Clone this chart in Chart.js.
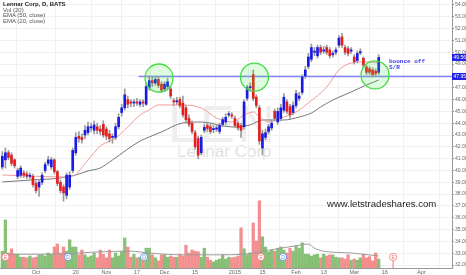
<!DOCTYPE html>
<html>
<head>
<meta charset="utf-8">
<script src="https://cdn.jsdelivr.net/npm/chart.js@4.4.1/dist/chart.umd.min.js"></script>
<style>
  html, body { margin: 0; padding: 0; background: #fff; }
  #wrap { position: relative; width: 466px; height: 275px; overflow: hidden; font-family: "Liberation Sans", Arial, sans-serif; }
  #chart { position: absolute; left: 0; top: 0; z-index: 1; }
  .wm { position: absolute; z-index: 0; white-space: nowrap; }
  #wmSym { left: 168px; top: 94px; font-size: 52px; letter-spacing: 3px; color: #eeeeee; }
  #wmName { left: 177px; top: 142px; font-size: 17px; color: #e2e2e2; }
  #legend { position: absolute; z-index: 2; left: 3px; top: 2px; font-size: 6px; line-height: 5.6px; color: #555; }
  #legend b { color: #222; }
  #site { position: absolute; z-index: 2; left: 327px; top: 198px; font-size: 9.6px; color: #222; }
  #note { position: absolute; z-index: 2; left: 389px; top: 59px; font-family: "Liberation Mono", monospace; font-weight: bold; font-size: 6px; line-height: 6px; color: #3a3af5; }
</style>
</head>
<body>
<div id="wrap">
  <div class="wm" id="wmSym">LEN</div>
  <div class="wm" id="wmName">Lennar Corp</div>
  <canvas id="chart" width="466" height="275"></canvas>
  <div id="legend">
    <b>Lennar Corp, D, BATS</b><br>Vol (20)<br>EMA (50, close)<br>EMA (20, close)
  </div>
  <div id="note">bounce off<br>S/R</div>
  <div id="site">www.letstradeshares.com</div>
</div>
<script>
// trading-day index of the first candle (0 = 1 Oct 2014)
const firstIdx = -11;

const tickIdx = [0, 13, 23, 33, 42, 52, 65, 74, 85, 94, 104, 114, 126];
const tickLabels = ['Oct', '20', 'Nov', '17', 'Dec', '15', '2015', '15', 'Feb', '13', 'Mar', '16', 'Apr'];

const opens = [
  40.3, 40.9, 41.5, 41.3, 40.9, 39.5, 39.6, 39.8, 39.7, 39.5,
  39.5, 38.9, 38.6, 39.0, 40.0, 40.6, 40.3, 40.9, 39.9, 39.0,
  38.6, 37.9, 38.6, 40.0, 41.5, 42.9, 42.8, 43.0, 43.2, 43.6,
  43.4, 43.7, 43.5, 43.9, 43.5, 43.1, 42.8, 42.8, 43.7, 44.9,
  45.3, 46.0, 45.8, 45.7, 45.8, 45.6, 45.8, 45.6, 47.0, 47.6,
  47.4, 47.7, 47.3, 46.9, 47.1, 46.9, 45.9, 45.8, 46.0, 45.7,
  45.3, 44.4, 44.0, 43.2, 42.7, 41.5, 43.4, 43.8, 43.7, 43.45,
  43.5, 43.3, 43.9, 44.1, 44.7, 44.7, 44.4, 44.0, 43.8, 43.7,
  46.1, 47.0, 48.1, 46.2, 45.3, 41.9, 42.8, 43.3, 43.6, 45.0,
  44.1, 44.4, 45.1, 45.8, 45.4, 44.9, 45.5, 46.1, 46.6, 48.0,
  48.8, 49.4, 50.0, 49.7, 50.4, 50.1, 50.4, 50.2, 49.8, 50.0,
  50.6, 51.3, 50.4, 50.3, 50.1, 49.6, 49.3, 49.95, 49.5, 48.75,
  48.6, 48.5, 48.4, 48.3
];
const highs = [
  41.6, 41.9, 41.7, 41.5, 41.0, 40.2, 40.4, 40.0, 39.9, 39.8,
  39.7, 39.1, 39.2, 39.8, 40.7, 41.2, 41.1, 41.0, 40.0, 39.2,
  38.8, 39.8, 39.9, 41.9, 43.2, 43.3, 43.1, 43.8, 44.1, 44.0,
  44.2, 44.0, 43.8, 44.2, 43.7, 43.4, 43.1, 44.0, 44.8, 45.6,
  46.9, 46.3, 46.0, 46.0, 46.1, 46.0, 46.0, 47.4, 48.0, 47.95,
  47.95, 47.9, 47.5, 47.5, 47.8, 47.1, 46.1, 46.2, 46.2, 46.3,
  45.5, 44.7, 44.2, 43.4, 42.9, 43.0, 43.9, 44.0, 43.9, 43.8,
  43.9, 44.0, 44.5, 44.8, 45.0, 44.9, 44.6, 44.2, 44.0, 46.0,
  47.2, 47.4, 48.5, 46.4, 45.5, 43.4, 43.5, 43.9, 44.3, 45.2,
  45.3, 45.6, 46.5, 46.0, 45.6, 45.8, 46.8, 46.6, 48.1, 48.8,
  49.9, 50.7, 50.4, 50.6, 50.6, 50.5, 50.6, 50.4, 50.1, 50.4,
  51.4, 51.6, 50.6, 50.5, 50.4, 49.8, 50.1, 50.3, 49.6, 48.9,
  48.8, 48.7, 48.6, 49.8
];
const lows = [
  40.1, 40.2, 40.9, 40.4, 40.2, 39.3, 39.4, 39.4, 39.3, 39.3,
  38.6, 38.1, 37.8, 38.8, 39.8, 40.4, 40.1, 39.7, 38.7, 38.1,
  37.4, 37.6, 38.4, 39.8, 41.3, 42.4, 42.3, 42.7, 43.0, 43.3,
  43.1, 43.1, 43.0, 42.8, 42.6, 42.4, 42.3, 42.6, 43.5, 44.6,
  45.1, 45.3, 45.4, 45.4, 45.5, 45.4, 45.4, 45.5, 46.8, 47.1,
  47.2, 47.0, 46.6, 46.7, 46.9, 46.1, 45.5, 45.6, 45.3, 44.5,
  44.0, 43.7, 43.1, 41.8, 41.0, 41.3, 43.2, 43.3, 43.1, 43.2,
  43.3, 43.1, 43.7, 43.9, 44.5, 44.4, 43.6, 43.4, 42.8, 43.5,
  45.9, 46.7, 45.9, 45.3, 42.2, 41.3, 42.6, 43.1, 43.4, 44.2,
  43.9, 44.2, 44.9, 44.8, 44.4, 44.7, 45.3, 45.9, 46.4, 47.8,
  48.6, 49.2, 49.7, 49.5, 49.8, 49.9, 49.8, 49.5, 49.6, 49.8,
  50.4, 50.4, 49.8, 49.7, 49.9, 49.0, 49.1, 49.8, 48.7, 48.1,
  48.1, 47.9, 47.95, 48.1
];
const closes = [
  41.2, 41.5, 41.1, 40.6, 40.4, 40.0, 40.2, 39.6, 39.5, 39.6,
  38.8, 38.3, 39.0, 39.6, 40.5, 40.9, 40.9, 39.9, 38.9, 38.3,
  38.1, 39.6, 39.6, 41.7, 42.8, 42.7, 42.6, 43.4, 43.7, 43.7,
  43.85, 43.4, 43.3, 43.0, 42.9, 42.7, 42.85, 43.7, 44.5, 45.3,
  46.4, 45.6, 45.7, 45.8, 45.7, 45.8, 45.7, 47.1, 47.6, 47.4,
  47.7, 47.2, 46.8, 47.3, 47.5, 46.3, 45.8, 45.9, 45.5, 44.7,
  44.3, 43.9, 43.3, 42.0, 41.3, 42.8, 43.65, 43.55, 43.3, 43.55,
  43.6, 43.8, 44.3, 44.5, 44.8, 44.6, 43.8, 43.6, 43.4, 45.8,
  47.0, 47.1, 46.1, 45.5, 42.5, 43.1, 43.2, 43.7, 44.0, 44.4,
  45.0, 45.3, 46.2, 45.0, 44.7, 45.5, 46.5, 46.3, 47.9, 48.5,
  49.6, 50.4, 50.1, 50.4, 50.0, 50.2, 50.0, 49.7, 49.9, 50.2,
  51.2, 50.6, 50.0, 49.9, 50.2, 49.2, 49.9, 50.05, 48.9, 48.3,
  48.3, 48.1, 48.2, 49.56
];
// volume, millions of shares
const volumes = [
  2.8, 8.0, 2.5, 3.2, 2.3, 2.3, 1.8, 1.8, 1.7, 2.0,
  1.7, 1.8, 2.2, 2.2, 2.0, 2.5, 2.3, 3.5, 4.0, 2.5,
  3.5, 2.8, 4.7, 3.5, 3.5, 2.2, 3.0, 2.2, 1.8, 2.0,
  2.5, 1.7, 3.0, 2.3, 1.7, 3.0, 1.7, 2.5, 2.0, 2.8,
  5.0, 3.5, 1.8, 2.3, 1.7, 1.8, 1.8, 3.3, 3.3, 2.2,
  1.7, 1.2, 2.2, 2.2, 1.8, 2.0, 1.8, 1.8, 2.3, 2.0,
  3.8, 2.5, 3.0, 2.8, 2.7, 1.8, 3.3, 1.8, 1.3, 1.0,
  1.3, 1.5, 2.2, 1.5, 1.8, 1.7, 1.8, 2.0, 6.7, 3.2,
  2.2, 2.5, 7.5, 4.5, 11.2, 5.2, 3.5, 2.7, 3.0, 2.8,
  3.3, 3.5, 3.0, 2.5, 3.3, 2.8, 3.7, 3.3, 4.2, 2.3,
  2.3, 2.0, 2.2, 2.3, 1.7, 2.3, 2.0, 2.2, 2.2, 1.8,
  1.7, 1.7, 1.5, 2.2, 1.3, 1.5, 1.3, 1.7, 2.3, 1.7,
  1.9, 1.2, 2.5, 1.5
];

// indicator lines at a few days each
const ema20Idx = [-11, -2, 8, 12, 17, 21, 26, 30, 34, 37, 40, 48, 54, 59, 64, 68, 71, 73, 76, 81, 85, 89, 95, 99, 103, 108, 112];
const ema20 = [39.62, 39.53, 39.45, 39.53, 40.89, 42.07, 42.75, 43.68, 44.69, 45.12, 45.54, 45.54, 45.29, 44.44, 44.10, 44.69, 44.95, 44.52, 44.10, 44.52, 44.95, 45.71, 47.06, 48.50, 49.09, 49.18, 49.09];
const ema50Idx = [-11, -1, 8, 13, 17, 21, 25, 34, 37, 41, 48, 54, 64, 70, 74, 81, 86, 90, 93, 97, 103, 108, 112];
const ema50 = [39.03, 39.20, 39.36, 39.62, 39.96, 40.21, 40.89, 42.49, 42.83, 43.26, 44.02, 44.10, 43.68, 43.85, 44.27, 44.27, 44.52, 44.86, 45.37, 45.96, 46.64, 47.23, 47.65];
const volMaIdx = [-11, 5, 21, 31, 37, 47, 60, 68, 73, 80, 86, 89, 91, 94, 103, 112];
const volMa = [2.3, 2.3, 2.7, 2.8, 2.5, 2.2, 2.2, 2.3, 2.7, 3.3, 3.8, 4.0, 3.3, 2.8, 2.5, 2.0];

const srLevel = 47.95;
const srFrom = 33.5;
const bounceIdx = [40.2, 71.4, 110.8];
const bouncePrice = [47.82, 47.9, 48.08];
const earningsIdx = [-10, 73.5, 116.7];
const dividendIdx = [10.5, 35.3, 80.7];

const days = opens.map((_, i) => firstIdx + i);
const isUp = days.map((_, i) => closes[i] >= opens[i]);
const xMin = -36 / 3.06;
const xMax = xMin + 452 / 3.06;

const annotations = {
  id: 'annotations',
  afterDatasetsDraw(chart) {
    const {ctx, scales: {x, y}, chartArea} = chart;
    ctx.save();
    // green circles around the touches of the S/R line
    bounceIdx.forEach((d, i) => {
      ctx.beginPath();
      ctx.arc(x.getPixelForValue(d), y.getPixelForValue(bouncePrice[i]), 14, 0, Math.PI * 2);
      ctx.fillStyle = 'rgba(60,235,60,0.16)';
      ctx.fill();
      ctx.lineWidth = 1.3;
      ctx.strokeStyle = '#44dd44';
      ctx.stroke();
    });
    // earnings / dividend flags
    const flagY = chartArea.bottom - 11;
    const flag = (d, letter, col) => {
      const px = x.getPixelForValue(d);
      if (d > days[days.length - 1]) {
        ctx.strokeStyle = col;
        ctx.lineWidth = 1;
        ctx.beginPath();
        ctx.moveTo(px, flagY + 4);
        ctx.lineTo(px, chartArea.bottom);
        ctx.stroke();
      }
      ctx.beginPath();
      ctx.arc(px, flagY, 3.6, 0, Math.PI * 2);
      ctx.fillStyle = '#fff';
      ctx.fill();
      ctx.lineWidth = 0.8;
      ctx.strokeStyle = col;
      ctx.stroke();
      ctx.fillStyle = col;
      ctx.font = '5px "Liberation Sans", Arial';
      ctx.textAlign = 'center';
      ctx.textBaseline = 'middle';
      ctx.fillText(letter, px, flagY + 0.3);
    };
    earningsIdx.forEach(d => flag(d, 'E', '#ee7777'));
    dividendIdx.forEach(d => flag(d, 'D', '#5b8fe0'));
    ctx.restore();
  },
  afterDraw(chart) {
    const {ctx, scales: {y}, chartArea} = chart;
    ctx.save();
    const tag = (v) => {
      const py = y.getPixelForValue(v);
      ctx.fillStyle = '#2020e8';
      ctx.fillRect(chartArea.right, py - 3.5, 14, 7);
      ctx.fillStyle = '#fff';
      ctx.font = '5px "Liberation Sans", Arial';
      ctx.textAlign = 'left';
      ctx.textBaseline = 'middle';
      ctx.fillText(v.toFixed(2), chartArea.right + 1.5, py + 0.3);
    };
    tag(closes[closes.length - 1]);
    tag(srLevel);
    ctx.restore();
  }
};

new Chart(document.getElementById('chart'), {
  type: 'bar',
  data: {
    datasets: [
      {
        type: 'line', label: 'S/R', yAxisID: 'y', order: 3,
        data: [{x: srFrom, y: srLevel}, {x: xMax, y: srLevel}],
        borderColor: 'rgba(110,110,255,0.85)', borderWidth: 1.6, pointRadius: 0
      },
      {
        label: 'Body', yAxisID: 'y', order: 1, grouped: false,
        data: days.map((d, i) => ({x: d, y: [opens[i], closes[i]]})),
        backgroundColor: isUp.map(u => u ? '#1a1ae6' : '#e61e1e'),
        barThickness: 2, minBarLength: 1, borderWidth: 0
      },
      {
        label: 'Wick', yAxisID: 'y', order: 2, grouped: false,
        data: days.map((d, i) => ({x: d, y: [lows[i], highs[i]]})),
        backgroundColor: '#9a9a9a', barThickness: 1, borderWidth: 0
      },
      {
        type: 'line', label: 'EMA 20', yAxisID: 'y', order: 4,
        data: ema20Idx.map((d, i) => ({x: d, y: ema20[i]})),
        borderColor: '#f39a9a', borderWidth: 1, pointRadius: 0, cubicInterpolationMode: 'monotone'
      },
      {
        type: 'line', label: 'EMA 50', yAxisID: 'y', order: 5,
        data: ema50Idx.map((d, i) => ({x: d, y: ema50[i]})),
        borderColor: '#777', borderWidth: 1, pointRadius: 0, cubicInterpolationMode: 'monotone'
      },
      {
        type: 'line', label: 'Vol MA', yAxisID: 'vol', order: 6,
        data: volMaIdx.map((d, i) => ({x: d, y: volMa[i]})),
        borderColor: '#9c9c9c', borderWidth: 1, pointRadius: 0, cubicInterpolationMode: 'monotone'
      },
      {
        label: 'Volume', yAxisID: 'vol', order: 7, grouped: false,
        data: days.map((d, i) => ({x: d, y: volumes[i]})),
        backgroundColor: isUp.map(u => u ? 'rgba(108,178,88,0.82)' : 'rgba(240,118,118,0.82)'),
        barThickness: 2.6, borderWidth: 0
      }
    ]
  },
  options: {
    responsive: false,
    animation: false,
    layout: {padding: 0},
    plugins: {legend: {display: false}, tooltip: {enabled: false}},
    scales: {
      x: {
        type: 'linear', min: xMin, max: xMax, offset: false,
        afterBuildTicks: s => { s.ticks = tickIdx.map(v => ({value: v})); },
        afterFit: s => { s.height = 7; s.paddingLeft = 0; s.paddingRight = 0; },
        ticks: {
          autoSkip: false, maxRotation: 0, padding: 1, color: '#666',
          font: {size: 5.5, family: '"Liberation Sans", Arial'},
          callback: (v, i) => tickLabels[i]
        },
        grid: {color: '#f1f1f1', drawTicks: false},
        border: {color: '#999'}
      },
      y: {
        type: 'linear', position: 'right', min: 31.75, max: 54.42,
        afterBuildTicks: s => {
          s.ticks = [];
          for (let v = 32; v <= 54; v++) s.ticks.push({value: v});
        },
        afterFit: s => { s.width = 14; s.paddingTop = 0; s.paddingBottom = 0; },
        ticks: {
          padding: 1, color: '#666',
          font: {size: 5, family: '"Liberation Sans", Arial'},
          callback: v => v.toFixed(2)
        },
        grid: {color: '#f1f1f1', tickLength: 2, tickColor: '#999'},
        border: {color: '#999'}
      },
      vol: {type: 'linear', display: false, min: 0, max: 44.67}
    }
  },
  plugins: [annotations]
});
</script>
</body>
</html>
